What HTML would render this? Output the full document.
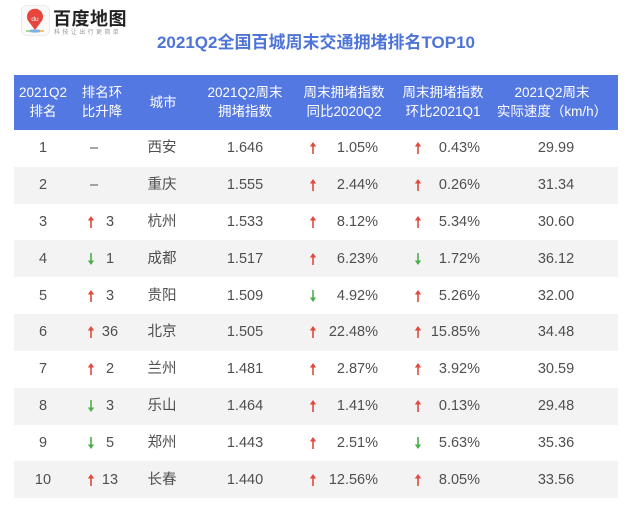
<!DOCTYPE html>
<html><head><meta charset="utf-8">
<style>
*{margin:0;padding:0;box-sizing:border-box}
html,body{width:629px;height:512px;background:#fff;overflow:hidden}
body{position:relative;font-family:"Liberation Sans","Noto Sans CJK SC",sans-serif;color:#4f4f4f}
.abs{position:absolute;white-space:nowrap}
.title{left:0;width:632px;top:31px;text-align:center;font-size:17px;font-weight:bold;color:#4e74d8;line-height:24px}
.hdr{position:absolute;left:14px;top:75px;width:604px;height:55px;background:#5478e2}
.h{position:absolute;color:#fff;font-size:13.5px;line-height:19px;text-align:center;white-space:nowrap;transform:translateX(-50%)}
.row{position:absolute;left:14px;width:604px;height:37px}
.g{background:#f3f3f3}
.c{position:absolute;font-size:14.5px;line-height:18px;white-space:nowrap;color:#4f4f4f}
.ctr{transform:translateX(-50%)}
.r{text-align:right}
svg.ar{position:absolute;width:8px;height:14px}
</style></head><body>

<!-- logo -->
<div class="abs" style="left:21px;top:5px;width:29px;height:31px;border:1px solid #ececec;border-radius:6px;background:#fafafa"></div>
<svg class="abs" style="left:21px;top:5px" width="29" height="31" viewBox="0 0 29 31">
<path d="M14 25 L8 17 A8 8 0 1 1 20 17 Z" fill="#e8463c"/>
<text x="14" y="16" font-size="6.5" fill="#fff" text-anchor="middle" font-family="Liberation Sans">du</text>
<ellipse cx="14" cy="26" rx="7" ry="1.6" fill="#7fb3e6"/>
<rect x="5" y="25" width="4" height="2" fill="#a9d58b"/>
<rect x="19" y="25" width="4" height="2" fill="#f3c46a"/>
</svg>
<div class="abs" style="left:53px;top:8px;font-size:18px;font-weight:bold;color:#222;line-height:22px;letter-spacing:0.5px">百度地图</div>
<div class="abs" style="left:54px;top:30px;font-size:6px;color:#999;line-height:7px;letter-spacing:2.4px">科技让出行更简单</div>

<div class="abs title">2021Q2全国百城周末交通拥堵排名TOP10</div>

<div class="hdr">
 <div class="h" style="left:29px;top:8px">2021Q2<br>排名</div>
 <div class="h" style="left:88px;top:8px">排名环<br>比升降</div>
 <div class="h" style="left:149px;top:18px">城市</div>
 <div class="h" style="left:231px;top:8px">2021Q2周末<br>拥堵指数</div>
 <div class="h" style="left:330px;top:8px">周末拥堵指数<br>同比2020Q2</div>
 <div class="h" style="left:429px;top:8px">周末拥堵指数<br>环比2021Q1</div>
 <div class="h" style="left:538px;top:8px">2021Q2周末<br>实际速度（km/h）</div>
</div>

<svg width="0" height="0" style="position:absolute">
<defs>
<g id="up"><line x1="4" y1="3" x2="4" y2="13" stroke="#e2483c" stroke-width="1.6"/><path d="M0.8 5.5 L4 1 L7.2 5.5 Z" fill="#e2483c"/></g>
<g id="dn"><line x1="4" y1="1" x2="4" y2="11" stroke="#4fae4a" stroke-width="1.6"/><path d="M0.8 8.5 L4 13 L7.2 8.5 Z" fill="#4fae4a"/></g>
</defs>
</svg>

<div id="rows"></div>

<div class="row" style="top:130px"></div>
<div class="row g" style="top:166.8px"></div>
<div class="row" style="top:203.6px"></div>
<div class="row g" style="top:240.4px"></div>
<div class="row" style="top:277.2px"></div>
<div class="row g" style="top:314px"></div>
<div class="row" style="top:350.8px"></div>
<div class="row g" style="top:387.6px"></div>
<div class="row" style="top:424.4px"></div>
<div class="row g" style="top:461.2px"></div>

<!-- Row 1 -->
<div class="c ctr" style="left:43px;top:139.4px">1</div>
<div class="c ctr" style="left:94px;top:139.4px">–</div>
<div class="c ctr" style="left:162px;top:139.4px">西安</div>
<div class="c ctr" style="left:245px;top:139.4px">1.646</div>
<svg class="ar" style="left:309px;top:141.4px" viewBox="0 0 8 14"><use href="#up"/></svg>
<div class="c r" style="left:318px;width:60px;top:139.4px">1.05%</div>
<svg class="ar" style="left:414px;top:141.4px" viewBox="0 0 8 14"><use href="#up"/></svg>
<div class="c r" style="left:420px;width:60px;top:139.4px">0.43%</div>
<div class="c ctr" style="left:556px;top:139.4px">29.99</div>

<!-- Row 2 -->
<div class="c ctr" style="left:43px;top:176.2px">2</div>
<div class="c ctr" style="left:94px;top:176.2px">–</div>
<div class="c ctr" style="left:162px;top:176.2px">重庆</div>
<div class="c ctr" style="left:245px;top:176.2px">1.555</div>
<svg class="ar" style="left:309px;top:178.2px" viewBox="0 0 8 14"><use href="#up"/></svg>
<div class="c r" style="left:318px;width:60px;top:176.2px">2.44%</div>
<svg class="ar" style="left:414px;top:178.2px" viewBox="0 0 8 14"><use href="#up"/></svg>
<div class="c r" style="left:420px;width:60px;top:176.2px">0.26%</div>
<div class="c ctr" style="left:556px;top:176.2px">31.34</div>

<!-- Row 3 -->
<div class="c ctr" style="left:43px;top:213px">3</div>
<svg class="ar" style="left:87px;top:215px" viewBox="0 0 8 14"><use href="#up"/></svg>
<div class="c ctr" style="left:110px;top:213px">3</div>
<div class="c ctr" style="left:162px;top:213px">杭州</div>
<div class="c ctr" style="left:245px;top:213px">1.533</div>
<svg class="ar" style="left:309px;top:215px" viewBox="0 0 8 14"><use href="#up"/></svg>
<div class="c r" style="left:318px;width:60px;top:213px">8.12%</div>
<svg class="ar" style="left:414px;top:215px" viewBox="0 0 8 14"><use href="#up"/></svg>
<div class="c r" style="left:420px;width:60px;top:213px">5.34%</div>
<div class="c ctr" style="left:556px;top:213px">30.60</div>

<!-- Row 4 -->
<div class="c ctr" style="left:43px;top:249.8px">4</div>
<svg class="ar" style="left:87px;top:251.8px" viewBox="0 0 8 14"><use href="#dn"/></svg>
<div class="c ctr" style="left:110px;top:249.8px">1</div>
<div class="c ctr" style="left:162px;top:249.8px">成都</div>
<div class="c ctr" style="left:245px;top:249.8px">1.517</div>
<svg class="ar" style="left:309px;top:251.8px" viewBox="0 0 8 14"><use href="#up"/></svg>
<div class="c r" style="left:318px;width:60px;top:249.8px">6.23%</div>
<svg class="ar" style="left:414px;top:251.8px" viewBox="0 0 8 14"><use href="#dn"/></svg>
<div class="c r" style="left:420px;width:60px;top:249.8px">1.72%</div>
<div class="c ctr" style="left:556px;top:249.8px">36.12</div>

<!-- Row 5 -->
<div class="c ctr" style="left:43px;top:286.6px">5</div>
<svg class="ar" style="left:87px;top:288.6px" viewBox="0 0 8 14"><use href="#up"/></svg>
<div class="c ctr" style="left:110px;top:286.6px">3</div>
<div class="c ctr" style="left:162px;top:286.6px">贵阳</div>
<div class="c ctr" style="left:245px;top:286.6px">1.509</div>
<svg class="ar" style="left:309px;top:288.6px" viewBox="0 0 8 14"><use href="#dn"/></svg>
<div class="c r" style="left:318px;width:60px;top:286.6px">4.92%</div>
<svg class="ar" style="left:414px;top:288.6px" viewBox="0 0 8 14"><use href="#up"/></svg>
<div class="c r" style="left:420px;width:60px;top:286.6px">5.26%</div>
<div class="c ctr" style="left:556px;top:286.6px">32.00</div>

<!-- Row 6 -->
<div class="c ctr" style="left:43px;top:323.4px">6</div>
<svg class="ar" style="left:87px;top:325.4px" viewBox="0 0 8 14"><use href="#up"/></svg>
<div class="c ctr" style="left:110px;top:323.4px">36</div>
<div class="c ctr" style="left:162px;top:323.4px">北京</div>
<div class="c ctr" style="left:245px;top:323.4px">1.505</div>
<svg class="ar" style="left:309px;top:325.4px" viewBox="0 0 8 14"><use href="#up"/></svg>
<div class="c r" style="left:318px;width:60px;top:323.4px">22.48%</div>
<svg class="ar" style="left:414px;top:325.4px" viewBox="0 0 8 14"><use href="#up"/></svg>
<div class="c r" style="left:420px;width:60px;top:323.4px">15.85%</div>
<div class="c ctr" style="left:556px;top:323.4px">34.48</div>

<!-- Row 7 -->
<div class="c ctr" style="left:43px;top:360.2px">7</div>
<svg class="ar" style="left:87px;top:362.2px" viewBox="0 0 8 14"><use href="#up"/></svg>
<div class="c ctr" style="left:110px;top:360.2px">2</div>
<div class="c ctr" style="left:162px;top:360.2px">兰州</div>
<div class="c ctr" style="left:245px;top:360.2px">1.481</div>
<svg class="ar" style="left:309px;top:362.2px" viewBox="0 0 8 14"><use href="#up"/></svg>
<div class="c r" style="left:318px;width:60px;top:360.2px">2.87%</div>
<svg class="ar" style="left:414px;top:362.2px" viewBox="0 0 8 14"><use href="#up"/></svg>
<div class="c r" style="left:420px;width:60px;top:360.2px">3.92%</div>
<div class="c ctr" style="left:556px;top:360.2px">30.59</div>

<!-- Row 8 -->
<div class="c ctr" style="left:43px;top:397px">8</div>
<svg class="ar" style="left:87px;top:399px" viewBox="0 0 8 14"><use href="#dn"/></svg>
<div class="c ctr" style="left:110px;top:397px">3</div>
<div class="c ctr" style="left:162px;top:397px">乐山</div>
<div class="c ctr" style="left:245px;top:397px">1.464</div>
<svg class="ar" style="left:309px;top:399px" viewBox="0 0 8 14"><use href="#up"/></svg>
<div class="c r" style="left:318px;width:60px;top:397px">1.41%</div>
<svg class="ar" style="left:414px;top:399px" viewBox="0 0 8 14"><use href="#up"/></svg>
<div class="c r" style="left:420px;width:60px;top:397px">0.13%</div>
<div class="c ctr" style="left:556px;top:397px">29.48</div>

<!-- Row 9 -->
<div class="c ctr" style="left:43px;top:433.8px">9</div>
<svg class="ar" style="left:87px;top:435.8px" viewBox="0 0 8 14"><use href="#dn"/></svg>
<div class="c ctr" style="left:110px;top:433.8px">5</div>
<div class="c ctr" style="left:162px;top:433.8px">郑州</div>
<div class="c ctr" style="left:245px;top:433.8px">1.443</div>
<svg class="ar" style="left:309px;top:435.8px" viewBox="0 0 8 14"><use href="#up"/></svg>
<div class="c r" style="left:318px;width:60px;top:433.8px">2.51%</div>
<svg class="ar" style="left:414px;top:435.8px" viewBox="0 0 8 14"><use href="#dn"/></svg>
<div class="c r" style="left:420px;width:60px;top:433.8px">5.63%</div>
<div class="c ctr" style="left:556px;top:433.8px">35.36</div>

<!-- Row 10 -->
<div class="c ctr" style="left:43px;top:470.6px">10</div>
<svg class="ar" style="left:87px;top:472.6px" viewBox="0 0 8 14"><use href="#up"/></svg>
<div class="c ctr" style="left:110px;top:470.6px">13</div>
<div class="c ctr" style="left:162px;top:470.6px">长春</div>
<div class="c ctr" style="left:245px;top:470.6px">1.440</div>
<svg class="ar" style="left:309px;top:472.6px" viewBox="0 0 8 14"><use href="#up"/></svg>
<div class="c r" style="left:318px;width:60px;top:470.6px">12.56%</div>
<svg class="ar" style="left:414px;top:472.6px" viewBox="0 0 8 14"><use href="#up"/></svg>
<div class="c r" style="left:420px;width:60px;top:470.6px">8.05%</div>
<div class="c ctr" style="left:556px;top:470.6px">33.56</div>

</body></html>
